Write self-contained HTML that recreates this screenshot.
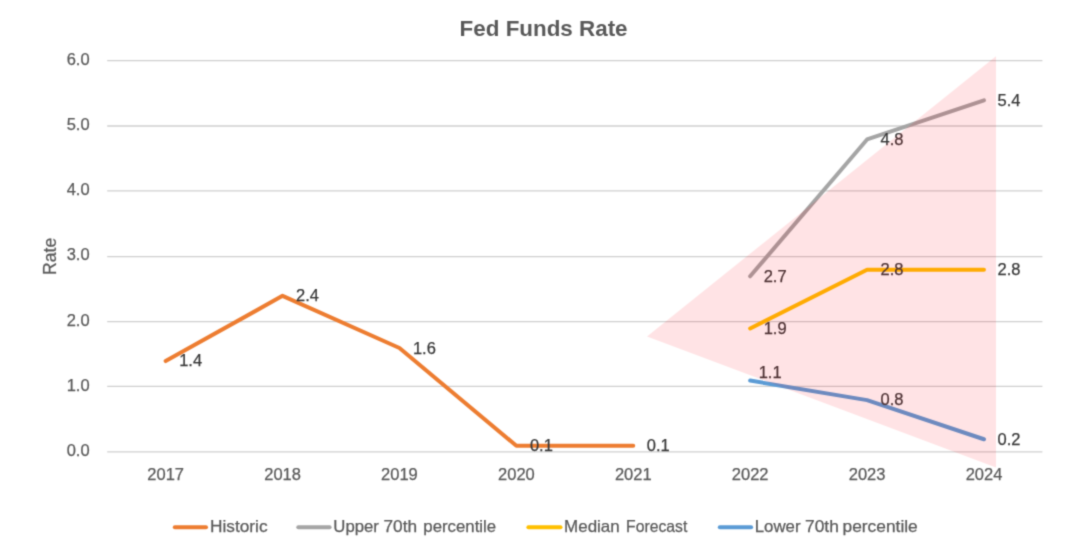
<!DOCTYPE html>
<html lang="en">
<head>
<meta charset="utf-8">
<title>Fed Funds Rate</title>
<style>
html,body{margin:0;padding:0;background:#fff;}
body{width:1080px;height:550px;overflow:hidden;font-family:"Liberation Sans",sans-serif;}
svg{display:block;}
text{font-family:"Liberation Sans",sans-serif;fill:#595959;}
.t{font-size:22.4px;font-weight:bold;}
.a{font-size:16.5px;stroke:#595959;stroke-width:0.25px;}
.d{font-size:16.5px;fill:#383838;stroke:#383838;stroke-width:0.25px;}
.g{stroke:#cfcfcf;stroke-width:1.33;}
.l{fill:none;stroke-width:4;stroke-linecap:round;stroke-linejoin:round;}
</style>
</head>
<body>
<svg width="1080" height="550" viewBox="0 0 1080 550">
<defs><filter id="soft" color-interpolation-filters="sRGB" x="0" y="0" width="1080" height="550" filterUnits="userSpaceOnUse"><feConvolveMatrix order="3" kernelMatrix="0.02768 0.11101 0.02768 0.11101 0.44521 0.11101 0.02768 0.11101 0.02768" edgeMode="duplicate" preserveAlpha="true"/></filter></defs>
<g filter="url(#soft)">
<rect width="1080" height="550" fill="#ffffff"/>

<line class="g" x1="107.2" x2="1042.4" y1="451.92" y2="451.92"/>
<line class="g" x1="107.2" x2="1042.4" y1="386.35" y2="386.35"/>
<line class="g" x1="107.2" x2="1042.4" y1="321.55" y2="321.55"/>
<line class="g" x1="107.2" x2="1042.4" y1="256.60" y2="256.60"/>
<line class="g" x1="107.2" x2="1042.4" y1="190.95" y2="190.95"/>
<line class="g" x1="107.2" x2="1042.4" y1="126.00" y2="126.00"/>
<line class="g" x1="107.2" x2="1042.4" y1="60.64" y2="60.64"/>
<text class="a" x="89.6" y="455.9" text-anchor="end">0.0</text>
<text class="a" x="89.6" y="390.8" text-anchor="end">1.0</text>
<text class="a" x="89.6" y="325.6" text-anchor="end">2.0</text>
<text class="a" x="89.6" y="260.4" text-anchor="end">3.0</text>
<text class="a" x="89.6" y="195.2" text-anchor="end">4.0</text>
<text class="a" x="89.6" y="130.0" text-anchor="end">5.0</text>
<text class="a" x="89.6" y="64.9" text-anchor="end">6.0</text>
<text class="a" x="165.7" y="480.3" text-anchor="middle">2017</text>
<text class="a" x="282.6" y="480.3" text-anchor="middle">2018</text>
<text class="a" x="399.4" y="480.3" text-anchor="middle">2019</text>
<text class="a" x="516.4" y="480.3" text-anchor="middle">2020</text>
<text class="a" x="633.3" y="480.3" text-anchor="middle">2021</text>
<text class="a" x="750.2" y="480.3" text-anchor="middle">2022</text>
<text class="a" x="867.1" y="480.3" text-anchor="middle">2023</text>
<text class="a" x="984.0" y="480.3" text-anchor="middle">2024</text>
<text class="t" x="543.6" y="36.4" text-anchor="middle">Fed Funds Rate</text>
<text class="a" style="font-size:17.6px" transform="translate(56.2,256.3) rotate(-90)" text-anchor="middle">Rate</text>
<polyline class="l" stroke="#ed7d31" points="165.65,361.04 282.55,295.86 399.45,348.00 516.35,445.77 633.25,445.77"/>
<polyline class="l" stroke="#a5a5a5" points="750.15,276.30 867.05,139.43 983.95,100.32"/>
<polyline class="l" stroke="#ffc000" points="750.15,328.45 867.05,269.79 983.95,269.79"/>
<polyline class="l" stroke="#5b9bd5" points="750.15,380.59 867.05,400.15 983.95,439.25"/>
<text class="d" x="179.2" y="366.3">1.4</text>
<text class="d" x="296.1" y="301.1">2.4</text>
<text class="d" x="412.9" y="354.3">1.6</text>
<text class="d" x="529.9" y="451.0">0.1</text>
<text class="d" x="646.8" y="451.0">0.1</text>
<text class="d" x="763.7" y="281.6">2.7</text>
<text class="d" x="880.6" y="144.7">4.8</text>
<text class="d" x="997.5" y="105.6">5.4</text>
<text class="d" x="763.7" y="333.7">1.9</text>
<text class="d" x="880.6" y="275.0">2.8</text>
<text class="d" x="997.5" y="275.0">2.8</text>
<text class="d" x="758.7" y="378.3">1.1</text>
<text class="d" x="880.6" y="405.4">0.8</text>
<text class="d" x="997.5" y="444.5">0.2</text>
<polygon points="647,336.4 996,56.3 996,467.4" fill="#ff0010" fill-opacity="0.11"/>
<line x1="174.8" x2="206.0" y1="527.2" y2="527.2" stroke="#ed7d31" stroke-width="4" stroke-linecap="round"/>
<text class="a" y="531.5"><tspan x="209.95" textLength="57.6" lengthAdjust="spacingAndGlyphs">Historic</tspan></text>
<line x1="298.3" x2="329.6" y1="527.2" y2="527.2" stroke="#a5a5a5" stroke-width="4" stroke-linecap="round"/>
<text class="a" y="531.5"><tspan x="333.30" textLength="45.6" lengthAdjust="spacingAndGlyphs">Upper</tspan> <tspan x="383.45" textLength="33.6" lengthAdjust="spacingAndGlyphs">70th</tspan> <tspan x="423.30" textLength="72.8" lengthAdjust="spacingAndGlyphs">percentile</tspan></text>
<line x1="528.4" x2="560.5" y1="527.2" y2="527.2" stroke="#ffc000" stroke-width="4" stroke-linecap="round"/>
<text class="a" y="531.5"><tspan x="564.10" textLength="55.6" lengthAdjust="spacingAndGlyphs">Median</tspan> <tspan x="626.05" textLength="61.2" lengthAdjust="spacingAndGlyphs">Forecast</tspan></text>
<line x1="719.8" x2="751.1" y1="527.2" y2="527.2" stroke="#5b9bd5" stroke-width="4" stroke-linecap="round"/>
<text class="a" y="531.5"><tspan x="754.70" textLength="45.8" lengthAdjust="spacingAndGlyphs">Lower</tspan> <tspan x="805.05" textLength="33.8" lengthAdjust="spacingAndGlyphs">70th</tspan> <tspan x="842.55" textLength="75.2" lengthAdjust="spacingAndGlyphs">percentile</tspan></text>
</g>
</svg>
</body>
</html>
